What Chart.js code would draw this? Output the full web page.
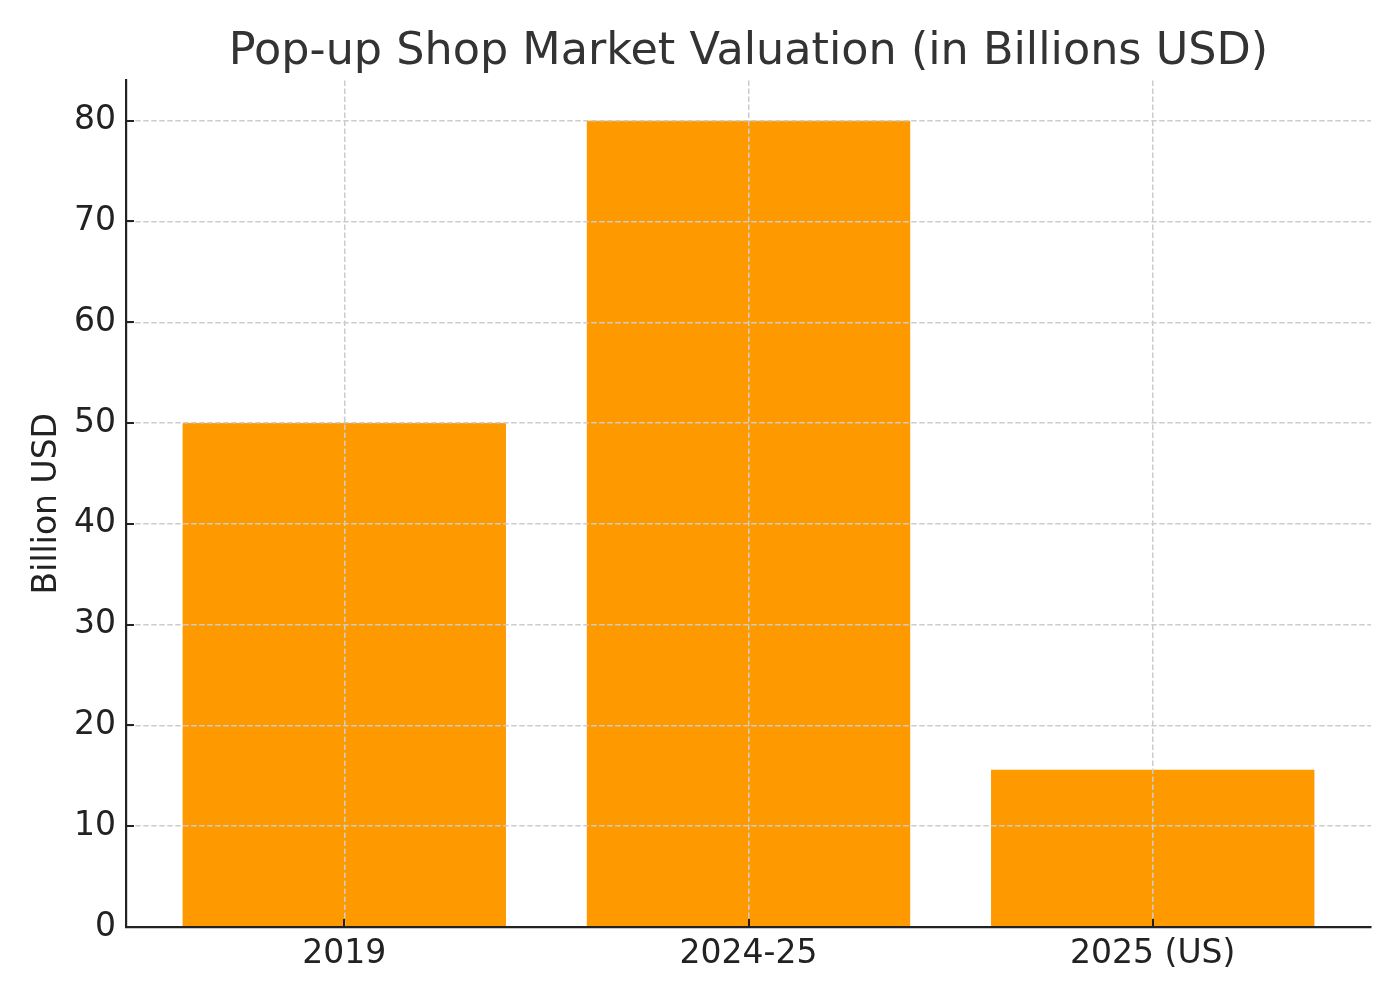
<!DOCTYPE html>
<html><head><meta charset="utf-8">
<script src="https://cdn.jsdelivr.net/npm/chart.js@4"></script>
<style>html,body{margin:0;padding:0;background:#fff}canvas{display:block}</style>
</head><body>
<canvas id="c" width="1400" height="1000"></canvas>
<script>
const categories = ['2019', '2024-25', '2025 (US)'];
const values = [50, 80, 15.6];
const yTicks = [0, 10, 20, 30, 40, 50, 60, 70, 80];
const chartTitle = 'Pop-up Shop Market Valuation (in Billions USD)';
const yAxisTitle = 'Billion USD';

Chart.defaults.font.family = "'DejaVu Sans', sans-serif";

const innerTicks = {
  id: 'innerTicks',
  afterDraw(chart) {
    const ctx = chart.ctx, xs = chart.scales.x, ys = chart.scales.y;
    ctx.save();
    ctx.strokeStyle = '#222';
    ctx.lineWidth = 2;
    xs.ticks.forEach(t => {
      const px = Math.round(xs.getPixelForValue(t.value));
      ctx.beginPath(); ctx.moveTo(px, ys.bottom); ctx.lineTo(px, ys.bottom - 8); ctx.stroke();
    });
    ys.ticks.forEach(t => {
      const py = Math.round(ys.getPixelForValue(t.value));
      ctx.beginPath(); ctx.moveTo(xs.left, py); ctx.lineTo(xs.left + 8, py); ctx.stroke();
    });
    ctx.restore();
  }
};

new Chart(document.getElementById('c'), {
  type: 'bar',
  data: {
    datasets: [{
      data: values.map((v, i) => ({ x: i, y: v })),
      backgroundColor: '#ff9900',
      borderWidth: 0,
      barPercentage: 0.8,
      categoryPercentage: 1
    }]
  },
  options: {
    responsive: false,
    devicePixelRatio: 1,
    animation: false,
    layout: { padding: { left: 0, right: 29, top: 0, bottom: 0 } },
    plugins: {
      legend: { display: false },
      tooltip: { enabled: false },
      title: {
        display: true,
        fullSize: false,
        text: chartTitle,
        color: '#333',
        font: { size: 44.5, weight: 'normal', lineHeight: 1.2 },
        padding: { top: 26, bottom: 1 }
      }
    },
    scales: {
      x: {
        type: 'linear',
        min: -0.54,
        max: 2.54,
        offset: false,
        z: 1,
        grid: { color: '#cccccc', lineWidth: 1.5, drawTicks: false, offset: false, z: 1 },
        border: { color: '#222', width: 2.2, dash: [5.5, 2.5], z: 2 },
        ticks: {
          color: '#222',
          font: { size: 33 },
          padding: 8,
          autoSkip: false,
          maxRotation: 0,
          callback: v => categories[v] !== undefined ? categories[v] : ''
        },
        afterBuildTicks: s => { s.ticks = categories.map((c, i) => ({ value: i })); },
        afterFit: s => { s.height = 73; }
      },
      y: {
        type: 'linear',
        min: 0,
        max: 84,
        z: 1,
        grid: { color: '#cccccc', lineWidth: 1.5, drawTicks: false, z: 1 },
        border: { color: '#222', width: 2.2, dash: [5.5, 2.5], z: 2 },
        ticks: { color: '#222', font: { size: 33 }, padding: 10 },
        afterBuildTicks: s => { s.ticks = yTicks.map(v => ({ value: v })); },
        afterFit: s => { s.width = 126; },
        title: {
          display: true,
          text: yAxisTitle,
          color: '#222',
          font: { size: 33 },
          padding: { top: 28, bottom: 0 }
        }
      }
    }
  },
  plugins: [innerTicks]
});
</script>
</body></html>
